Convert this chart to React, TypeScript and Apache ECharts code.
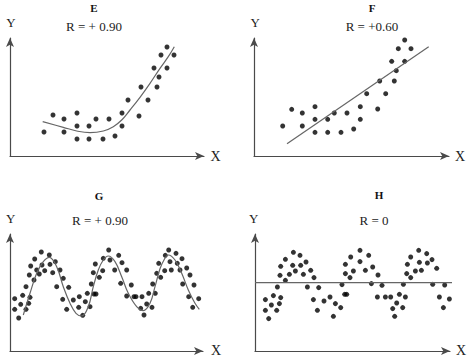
import React, { useEffect, useRef } from "react";
import * as echarts from "echarts";

// Panel E: scatter points and fitted curve (units = px from axis origin)
const ePoints: number[][] = [
  [34, 24], [43, 41], [54, 37], [54, 24], [67, 43], [67, 30], [67, 17], [79, 30], [79, 17],
  [86, 37], [93, 17], [99, 37], [105, 20], [112, 43], [112, 30], [118, 56], [129, 40],
  [131, 69], [138, 56], [144, 88], [147, 69], [149, 79], [151, 101], [157, 109], [157, 88], [164, 101],
];
const eCurve: number[][] = [
  [32.7, 34.3], [53.3, 28.7], [66.7, 25], [80, 23.3], [93.3, 25], [103.3, 29.3], [111.7, 36],
  [120, 46], [130, 58.7], [140, 72.7], [150, 87.7], [158.3, 99.3], [164.3, 109.3],
];

// Panel F
const fPoints: number[][] = [
  [28.7, 30], [37.7, 46.7], [48.3, 43], [48.3, 30], [61, 49.3], [61, 36.7], [61, 23.7],
  [73.7, 36.7], [73.7, 23.7], [80.3, 43], [87, 23.7], [93, 43], [99.7, 27], [106.3, 49.3],
  [106.3, 36.7], [112.7, 62.3], [123.7, 47], [125.7, 75], [131.7, 62.3], [137.7, 94.7],
  [140.3, 75], [142.3, 85.3], [144.3, 107.3], [150.7, 116], [150.7, 94.7], [157, 107.3],
];
const fLine: number[][] = [[33, 12.3], [174.7, 109.3]];

// Panel G
const gPoints: number[][] = [
  [4.7, 52.3], [4.7, 41.7], [8.7, 33], [10.7, 46.7], [12.7, 55.7], [16, 41.7], [16, 64.3],
  [18.7, 47.7], [20, 53.7], [19.3, 76], [20.7, 85], [24, 71], [24.7, 92], [26.7, 81],
  [29.3, 77], [31.3, 99], [32, 86], [34.7, 80.3], [39.3, 96], [40, 86.7], [42.7, 78.3],
  [45.3, 89.3], [46.7, 64.3], [50, 81], [52.7, 51.7], [53.3, 72.7], [56.7, 41.7], [58.7, 63.7],
  [63.3, 51], [68.7, 43.7], [69.3, 54.3], [72.7, 35.7], [75.3, 49.3], [77.3, 57.7], [80, 44.3],
  [81.3, 67], [84, 57], [86, 57], [83.3, 78.3], [85.3, 87], [89.3, 73.7], [92.7, 80.3],
  [93.3, 92.7], [98.7, 101], [100, 91], [104.7, 81], [108.7, 95.7], [110.7, 67.7], [112, 88.3],
  [116.7, 55], [116.7, 81], [121.3, 66], [124, 54.3], [126, 54.3], [130.7, 42.7], [132, 54.3],
  [134, 36], [136.7, 47], [138.7, 57.7], [142, 43.7], [142.7, 67], [145.3, 57.7], [146.7, 77.7],
  [148.7, 87.7], [150.7, 73.7], [154.7, 80.3], [155.3, 95.7], [158.7, 101], [160, 89.3],
  [161.3, 81], [166, 97.7], [167.3, 87.7], [170, 81], [172, 92.3], [172.7, 67], [176.7, 83],
  [178.7, 54.3], [180, 76], [182.7, 43.7], [184, 66], [188.7, 52.3],
];
const gCurve: number[][] = [
  [13.3, 36], [20, 57.7], [26.7, 77.7], [33.3, 89.3], [39.3, 93.7], [46.7, 84.3], [53.3, 64.3],
  [60, 47.7], [66, 37.7], [71.7, 35], [78.3, 44.3], [83.3, 64.3], [88.3, 81], [93.3, 91],
  [98.3, 95], [105, 89.3], [111.7, 74.3], [118.3, 57.7], [126.7, 44.3], [133.3, 40.3],
  [140, 47.7], [145, 64.3], [150, 82.3], [154, 91], [158.3, 96], [165, 91], [171.7, 77.7],
  [178.3, 61], [185, 47.7], [189.3, 41.7],
];

// Panel H
const hPoints: number[][] = [
  [10.4, 51.4], [10.4, 40.7], [13.7, 32.4], [16.4, 46], [18.4, 55.4], [21.7, 40.7], [22.4, 64],
  [24.4, 47.4], [25.7, 53.4], [25, 75.7], [25.7, 84.7], [30.4, 70.7], [30.4, 91.7], [34.4, 76.7],
  [38.4, 98.7], [37.7, 85.7], [40.4, 80], [45, 95.7], [45.7, 85.7], [48.4, 76.7], [51, 89],
  [52.4, 64], [55.7, 80.7], [58.4, 51.4], [59, 73.4], [62.4, 40.7], [63.7, 63.4], [69, 50],
  [75, 54], [78.4, 34.7], [80.4, 47.4], [85.7, 43.4], [87, 66.4], [89.7, 56.7], [91.7, 56.7],
  [90.4, 77.4], [90.4, 86.7], [95, 73.4], [98.4, 80], [95.7, 94], [105, 100.7], [105, 89.4],
  [110.4, 80.7], [113.7, 95.7], [116.4, 67.4], [117.7, 84], [122.4, 54], [123, 76], [127, 65.7],
  [130.4, 54], [135.7, 54], [137.7, 42.4], [139.7, 34.7], [141.7, 48], [144.4, 56.7],
  [147.7, 43.4], [148.4, 66.7], [150.4, 54], [151.7, 77.4], [152.4, 86.7], [155.7, 73.4],
  [155.7, 94], [160.4, 80], [163.7, 100.7], [164.4, 88.7], [166.4, 80.7], [171.7, 97.4],
  [172.4, 88], [177, 91.4], [177.7, 66.7], [181.7, 82.7], [184.4, 54], [189.7, 66],
  [188.4, 43.4], [194.4, 52],
];
const hLine: number[][] = [[0, 68.4], [212.4, 68.4]];

const panelTitles = ["E", "F", "G", "H"];
const panelR = ["R = + 0.90", "R = +0.60", "R = + 0.90", "R = 0"];

const grids = [
  { left: 10, top: 38, width: 194, height: 118 },
  { left: 254, top: 38, width: 195, height: 118 },
  { left: 10, top: 234, width: 193, height: 117 },
  { left: 255, top: 234, width: 195, height: 117 },
];
const titlePos = [
  [94, 8, 94, 26],
  [372, 8, 372, 26.5],
  [99, 196, 100, 220],
  [379, 195, 374, 220],
];
const yLabelPos = [[11, 22.5], [255.3, 22.7], [10.7, 218.3], [253.7, 218.3]];
const xLabelPos = [[215.5, 156], [460, 156], [216, 350.7], [461, 350.7]];

const FONT = "'Liberation Serif', 'Times New Roman', serif";
const AXIS_COLOR = "#4a4a4a";

export default function App() {
  const ref = useRef<HTMLDivElement>(null);
  useEffect(() => {
    if (!ref.current) return;
    const chart = echarts.init(ref.current, undefined, { renderer: "svg" });
    const axisCommon = {
      type: "value" as const,
      min: 0,
      axisLine: {
        show: true,
        onZero: false,
        symbol: ["none", "arrow"],
        symbolSize: [6, 9],
        lineStyle: { color: AXIS_COLOR, width: 1.2 },
      },
      axisTick: { show: false },
      axisLabel: { show: false },
      splitLine: { show: false },
    };
    const xAxis = grids.map((g, i) => ({ ...axisCommon, gridIndex: i, max: g.width }));
    const yAxis = grids.map((g, i) => ({ ...axisCommon, gridIndex: i, max: g.height }));
    const scatter = (data: number[][], i: number) => ({
      type: "scatter",
      xAxisIndex: i,
      yAxisIndex: i,
      data,
      symbolSize: 5,
      itemStyle: { color: "#000" },
      silent: true,
    });
    const line = (data: number[][], i: number, smooth: boolean | number) => ({
      type: "line",
      xAxisIndex: i,
      yAxisIndex: i,
      data,
      smooth,
      showSymbol: false,
      clip: false,
      lineStyle: { color: "#666", width: 1.2 },
      silent: true,
    });
    const texts: any[] = [];
    for (let i = 0; i < 4; i++) {
      const p = titlePos[i];
      texts.push({
        type: "text", x: p[0], y: p[1],
        style: { text: panelTitles[i], font: `bold 11px ${FONT}`, fill: "#111", align: "center", verticalAlign: "middle" },
      });
      texts.push({
        type: "text", x: p[2], y: p[3],
        style: { text: panelR[i], font: `13px ${FONT}`, fill: "#222", align: "center", verticalAlign: "middle" },
      });
      texts.push({
        type: "text", x: yLabelPos[i][0], y: yLabelPos[i][1],
        style: { text: "Y", font: `13px ${FONT}`, fill: "#222", align: "center", verticalAlign: "middle" },
      });
      texts.push({
        type: "text", x: xLabelPos[i][0], y: xLabelPos[i][1],
        style: { text: "X", font: `14px ${FONT}`, fill: "#222", align: "center", verticalAlign: "middle" },
      });
    }
    chart.setOption({
      animation: false,
      backgroundColor: "#fff",
      grid: grids.map((g) => ({ ...g, containLabel: false })),
      xAxis,
      yAxis,
      series: [
        line(eCurve, 0, 0.4),
        scatter(ePoints, 0),
        line(fLine, 1, false),
        scatter(fPoints, 1),
        line(gCurve, 2, 0.4),
        scatter(gPoints, 2),
        line(hLine, 3, false),
        scatter(hPoints, 3),
      ],
      graphic: texts,
    });
    return () => chart.dispose();
  }, []);
  return (
    <div
      ref={ref}
      style={{ position: "fixed", left: 0, top: 0, width: 474, height: 362, background: "#fff" }}
    />
  );
}
